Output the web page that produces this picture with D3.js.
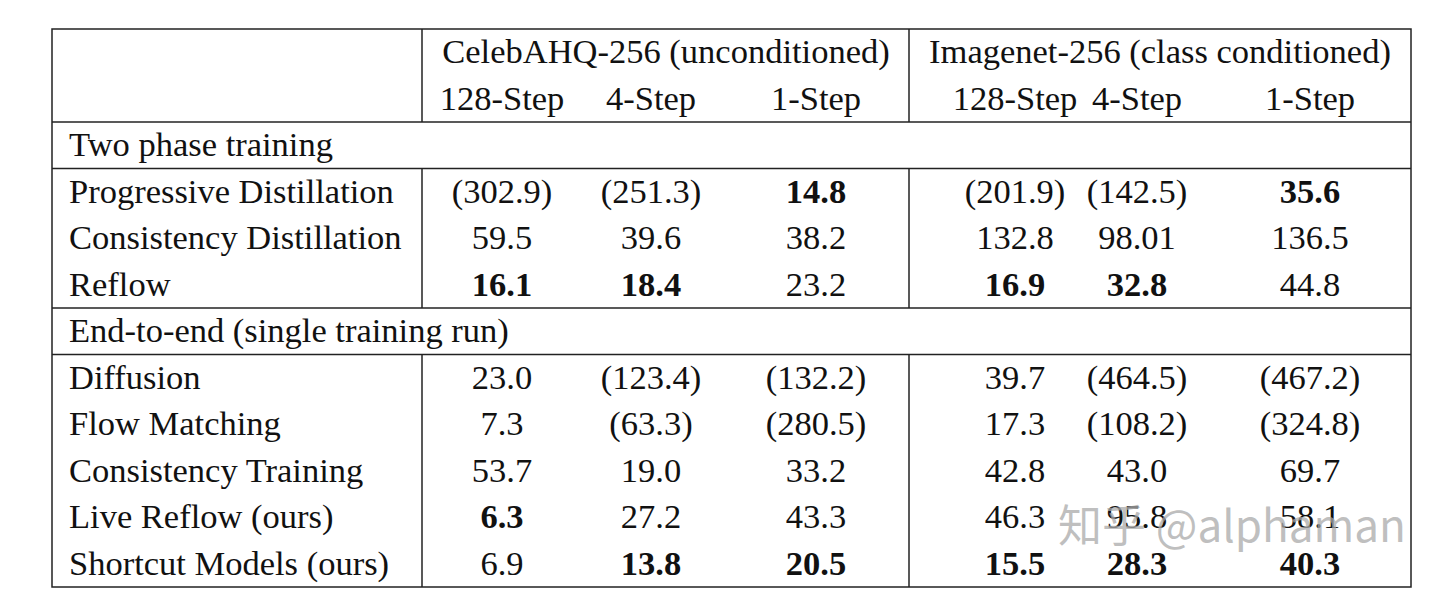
<!DOCTYPE html>
<html>
<head>
<meta charset="utf-8">
<script src="https://d3js.org/d3.v7.min.js"></script>
<style>body{margin:0;background:#fff}text{font-family:"Liberation Serif","Times New Roman",serif;font-size:34.5px;fill:#111}</style>
</head>
<body>
<script>
const groups = ["CelebAHQ-256 (unconditioned)", "Imagenet-256 (class conditioned)"];
const steps = ["128-Step", "4-Step", "1-Step", "128-Step", "4-Step", "1-Step"];
const sections = [
  {title: "Two phase training", methods: ["Progressive Distillation", "Consistency Distillation", "Reflow"]},
  {title: "End-to-end (single training run)", methods: ["Diffusion", "Flow Matching", "Consistency Training", "Live Reflow (ours)", "Shortcut Models (ours)"]}
];
const values = [
  ["(302.9)", "(251.3)", "14.8", "(201.9)", "(142.5)", "35.6"],
  ["59.5", "39.6", "38.2", "132.8", "98.01", "136.5"],
  ["16.1", "18.4", "23.2", "16.9", "32.8", "44.8"],
  ["23.0", "(123.4)", "(132.2)", "39.7", "(464.5)", "(467.2)"],
  ["7.3", "(63.3)", "(280.5)", "17.3", "(108.2)", "(324.8)"],
  ["53.7", "19.0", "33.2", "42.8", "43.0", "69.7"],
  ["6.3", "27.2", "43.3", "46.3", "95.8", "58.1"],
  ["6.9", "13.8", "20.5", "15.5", "28.3", "40.3"]
];
const bold = [
  [0,0,1,0,0,1],[0,0,0,0,0,0],[1,1,0,1,1,0],
  [0,0,0,0,0,0],[0,0,0,0,0,0],[0,0,0,0,0,0],[1,0,0,0,0,0],[0,1,1,1,1,1]
];

const W = 1440, H = 592, L = 52, R = 1411, T = 29, B = 587;
const svg = d3.select("body").append("svg").attr("width", W).attr("height", H);

const rows = ["h1", "h2"];
let vi = 0;
sections.forEach((s, si) => {
  rows.push("s" + si);
  s.methods.forEach(() => rows.push("v" + (vi++)));
});
const y = d3.scaleBand().domain(rows).range([T, B]);
const colX = [502, 651, 816, 1015, 1137, 1310];
const groupX = [666, 1160];

svg.append("rect").attr("x", L).attr("y", T).attr("width", R - L).attr("height", B - T)
  .attr("fill", "none").attr("stroke", "#222").attr("stroke-width", 1.5);
const hl = ["s0", "v0", "s1", "v3"].map(r => y(r));
svg.selectAll("line.h").data(hl).enter().append("line")
  .attr("x1", L).attr("x2", R).attr("y1", d => d).attr("y2", d => d)
  .attr("stroke", "#222").attr("stroke-width", 1.5);
const vStops = [[y("h1"), y("s0")], [y("v0"), y("s1")], [y("v3"), B]];
[422, 909].forEach(x => vStops.forEach(([a, b]) => svg.append("line")
  .attr("x1", x).attr("x2", x).attr("y1", a).attr("y2", b)
  .attr("stroke", "#222").attr("stroke-width", 1.5)));

const cy = r => y(r) + y.bandwidth() / 2 + 11;
svg.selectAll("text.g").data(groups).enter().append("text")
  .attr("x", (d, i) => groupX[i]).attr("y", cy("h1")).attr("text-anchor", "middle").text(d => d);
svg.selectAll("text.st").data(steps).enter().append("text")
  .attr("x", (d, i) => colX[i]).attr("y", cy("h2")).attr("text-anchor", "middle").text(d => d);

vi = 0;
sections.forEach((s, si) => {
  svg.append("text").attr("x", 69).attr("y", cy("s" + si)).text(s.title);
  s.methods.forEach(m => {
    const r = "v" + vi, row = vi;
    svg.append("text").attr("x", 69).attr("y", cy(r)).text(m);
    values[row].forEach((v, j) => svg.append("text")
      .attr("x", colX[j]).attr("y", cy(r)).attr("text-anchor", "middle")
      .attr("font-weight", bold[row][j] ? "bold" : "normal").text(v));
    vi++;
  });
});

svg.append("text").attr("x", 1058).attr("y", 542)
  .style("font-family", "'Noto Sans CJK SC','DejaVu Sans',sans-serif").style("font-size", "44px")
  .style("fill", "rgba(170,170,170,0.75)").text("知乎 @alphaman");
</script>
</body>
</html>
